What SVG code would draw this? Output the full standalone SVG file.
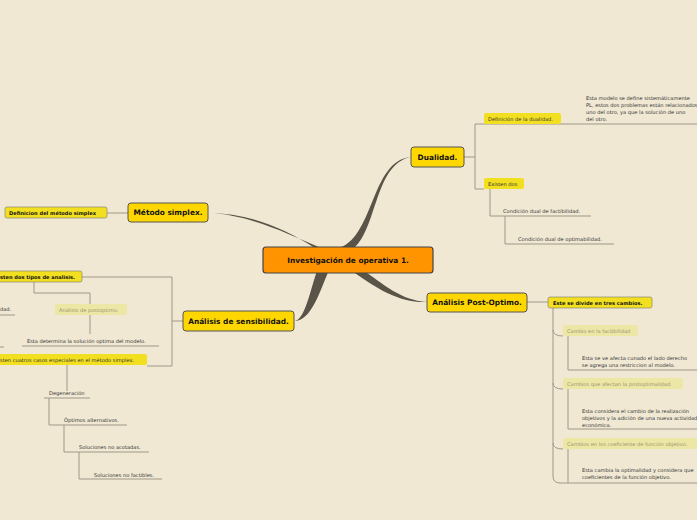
<svg xmlns="http://www.w3.org/2000/svg" width="697" height="520" viewBox="0 0 697 520">
<style>
.t{font-family:"DejaVu Sans",Verdana,sans-serif;font-size:5.1px;fill:#333}
.b{font-family:"DejaVu Sans",Verdana,sans-serif;font-size:5.1px;font-weight:bold;fill:#111}
.m{font-family:"DejaVu Sans",Verdana,sans-serif;font-size:7.4px;font-weight:bold;fill:#111}
.l{fill:none;stroke:#a09888;stroke-width:1}
.y{fill:#ffd700;stroke:#555;stroke-width:1}
.ys{fill:#f2e020}
.yl{fill:#ede7a6}
.lt{font-family:"DejaVu Sans",Verdana,sans-serif;font-size:5.1px;fill:#9a9270}
</style>
<rect width="697" height="520" fill="#f0e8d3"/>
<g id="connectors">
<path d="M336,249 C375,240 370,160 411,157 C372,164 378,238 348,252 Z" fill="#5a5448"/>
<path d="M318,250 C280,225 245,213 208,213 C245,214 280,230 330,252 Z" fill="#5a5448"/>
<path d="M318,268 C310,290 305,321 294,321 C312,321 320,290 330,268 Z" fill="#5a5448"/>
<path d="M360,268 C385,285 400,300 427,302 C400,303 378,290 348,268 Z" fill="#5a5448"/>
<path class="l" d="M464,157H475M475,124V189M475,124H697M475,189H484M490,189V216H591M505,216V244H614"/>
<path class="l" d="M527,302H548M553,308V476Q553,483 560,483H697M553,330Q553,336 563,336M568,336V370H697M553,383Q553,389 563,389M568,389V429H697M553,443Q553,449 563,449M568,449V483"/>
<path class="l" d="M107,213H128"/>
<path class="l" d="M183,321H172M172,277V366H147M172,277H82M34,282V293H90V304M0,315H15M90,315V334M22,346H159M0,347H4M67,365V391M44,398H90M49,398V425H127M64,425V452H149M79,452V479H162"/>
</g>
<g id="center"><rect x="263" y="247" width="170" height="26" rx="3" fill="#ff9400" stroke="#444" stroke-width="1.2"/><text x="348" y="263" text-anchor="middle" class="m">Investigación de operativa 1.</text></g>
<g id="dualidad"><rect x="411" y="147" width="53" height="20" rx="3" class="y"/><text x="437.5" y="159.5" text-anchor="middle" class="m">Dualidad.</text></g>
<g id="def-dual"><rect x="484" y="113" width="77" height="11" rx="2" class="ys"/><text x="488" y="120.5" class="t">Definición de la dualidad.</text>
<text class="t" x="586" y="100">Esta modelo se define sistemáticamente</text><text class="t" x="586" y="107">PL, estos dos problemas están relacionados</text><text class="t" x="586" y="114">uno del otro, ya que la solución de uno</text><text class="t" x="586" y="121">del otro.</text></g>
<g id="existen"><rect x="484" y="178" width="40" height="11" rx="2" class="ys"/><text x="488" y="185.5" class="t">Existen dos</text>
<text class="t" x="503" y="213">Condición dual de factibilidad.</text><text class="t" x="518" y="241">Condición dual de optimabilidad.</text></g>
<g id="simplex"><rect x="128" y="203" width="80" height="19" rx="3" class="y"/><text x="168" y="215" text-anchor="middle" class="m">Método simplex.</text></g>
<g id="def-simplex"><rect x="5" y="207" width="102" height="11" rx="2" fill="#f2e020" stroke="#777" stroke-width="0.6"/><text x="9" y="214.5" class="b">Definicion del método simplex</text></g>
<g id="sensibilidad"><rect x="183" y="311" width="111" height="20" rx="3" class="y"/><text x="238.5" y="323.5" text-anchor="middle" class="m">Análisis de sensibilidad.</text></g>
<g id="dos-tipos"><rect x="-5" y="271" width="87" height="11" rx="2" fill="#f2e020" stroke="#777" stroke-width="0.6"/><text x="0" y="278.5" class="b">sten dos tipos de analisis.</text>
<text class="t" x="0" y="311">dad.</text>
<rect x="55" y="304" width="72" height="11" rx="2" class="yl"/><text x="59" y="311.5" class="lt">Análisis de postoptimo.</text>
<text class="t" x="27" y="343">Esta determina la solución optima del modelo.</text></g>
<g id="cuatro"><rect x="-5" y="354" width="152" height="11" rx="2" class="ys"/><text x="0" y="361.5" class="t">sten cuatros casos especiales en el método simplex.</text>
<text class="t" x="49" y="394.5">Degeneración</text><text class="t" x="64" y="421.5">Óptimos alternativos.</text><text class="t" x="79" y="448.5">Soluciones no acotadas.</text><text class="t" x="94" y="476.5">Soluciones no factibles.</text></g>
<g id="postoptimo"><rect x="427" y="293" width="100" height="19" rx="3" class="y"/><text x="477" y="305" text-anchor="middle" class="m">Análisis Post-Optimo.</text></g>
<g id="tres"><rect x="548" y="297" width="104" height="11" rx="2" fill="#f2e020" stroke="#777" stroke-width="0.6"/><text x="553" y="304.5" class="b">Este se divide en tres cambios.</text></g>
<g id="c1"><rect x="563" y="325" width="75" height="11" rx="2" class="yl"/><text x="567" y="332.5" class="lt">Cambio en la factibilidad</text>
<text class="t" x="582" y="360">Esta se ve afecta cunado el lado derecho</text><text class="t" x="582" y="367">se agrega una restriccion al modelo.</text></g>
<g id="c2"><rect x="563" y="378" width="120" height="11" rx="2" class="yl"/><text x="567" y="385.5" class="lt">Cambios que afectan la postoptimalidad.</text>
<text class="t" x="582" y="413">Esta considera el cambio de la realización</text><text class="t" x="582" y="420">objetivos y la adición de una nueva actividad</text><text class="t" x="582" y="427">económica.</text></g>
<g id="c3"><rect x="563" y="438" width="136" height="11" rx="2" class="yl"/><text x="567" y="445.5" class="lt">Cambios en los coeficiente de función objetivo.</text>
<text class="t" x="582" y="472">Esta cambia la optimalidad y considera que</text><text class="t" x="582" y="479">coeficientes de la función objetivo.</text></g>
</svg>
